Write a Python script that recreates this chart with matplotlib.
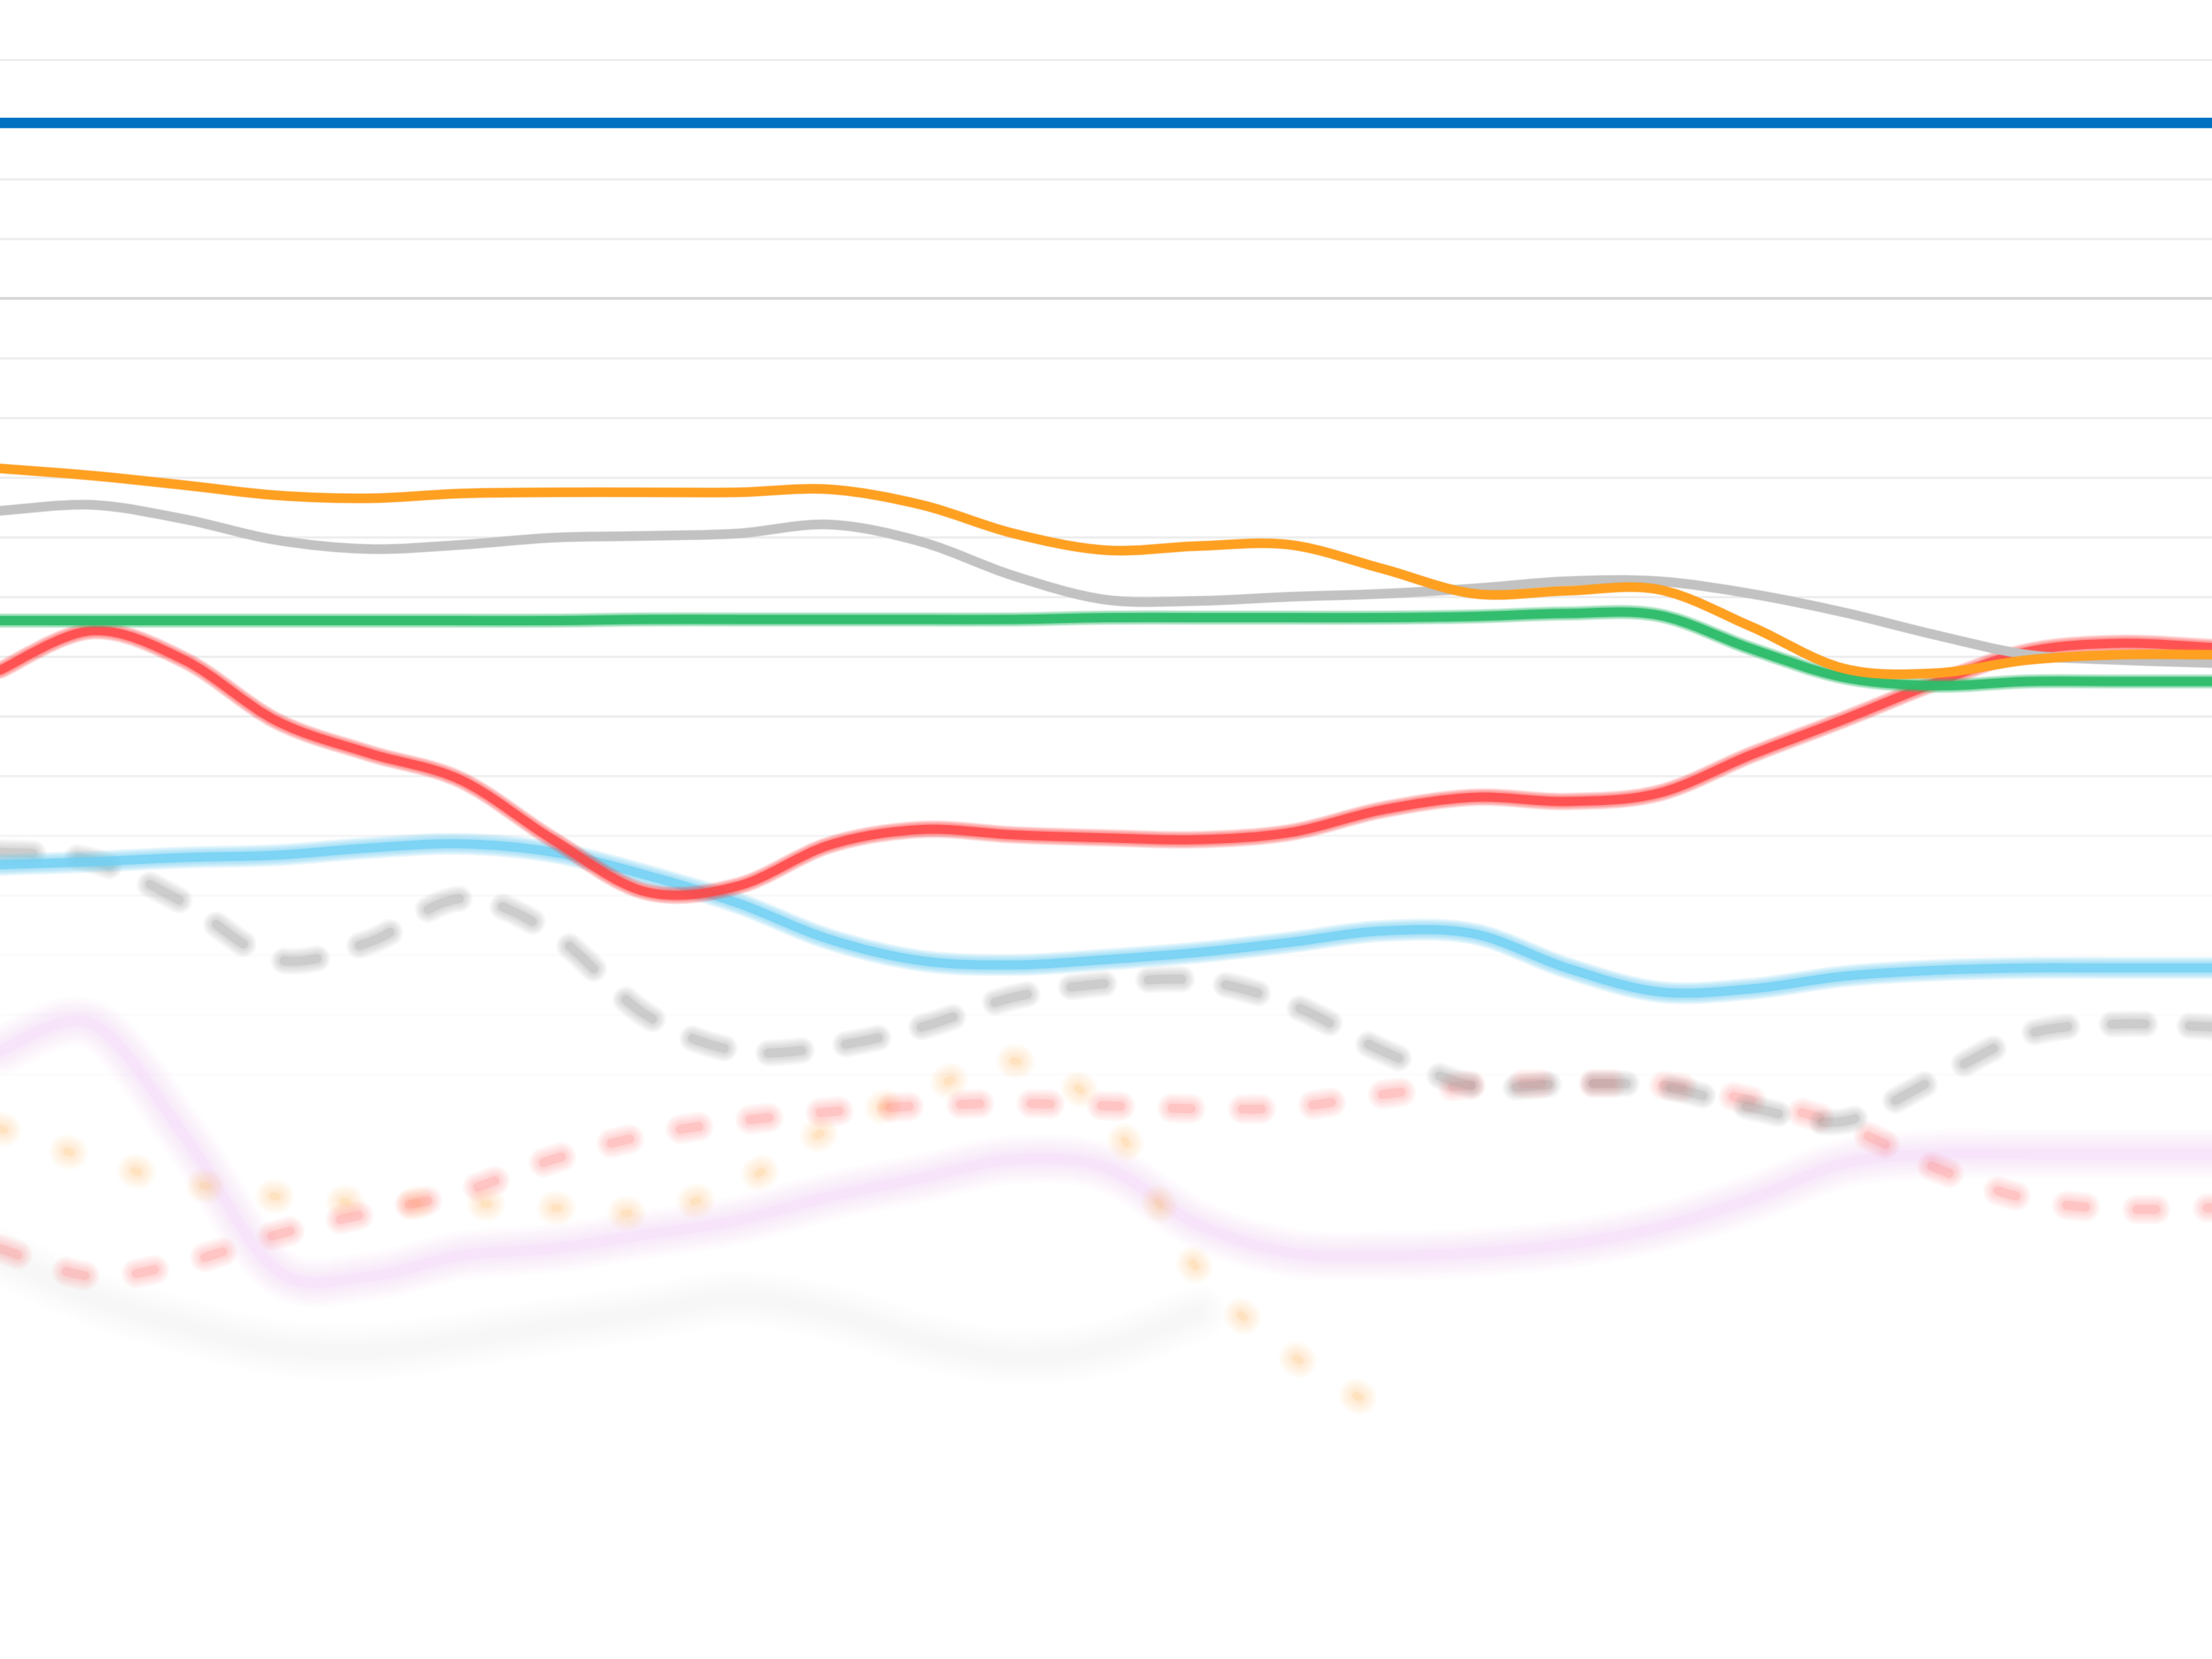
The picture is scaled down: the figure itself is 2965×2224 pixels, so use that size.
import numpy as np
import matplotlib
matplotlib.use('Agg')
import matplotlib.pyplot as plt
from matplotlib.path import Path
from matplotlib.patches import PathPatch

plt.rcParams['lines.scale_dashes'] = False

##############################
#            DATA            #
##############################

x = np.arange(25)

blue = [129.4] * 25
orange = [71.5, 70.3, 68.7, 67.0, 66.5, 67.3, 67.5, 67.5, 67.5, 68.0, 65.4, 60.6, 57.8,
          58.5, 58.7, 54.7, 50.5, 51.0, 51.2, 45.0, 38.0, 37.2, 39.4, 40.3, 40.3]
gray = [64.4, 65.4, 63.0, 59.5, 58.0, 58.7, 59.9, 60.2, 60.6, 62.1, 59.2, 53.5, 49.5,
        49.3, 50.0, 50.5, 51.4, 52.6, 52.6, 50.5, 47.4, 43.6, 40.3, 39.4, 38.9]
green = [46.0, 46.0, 46.0, 46.0, 46.0, 46.0, 46.0, 46.2, 46.2, 46.2, 46.2, 46.2, 46.5,
         46.5, 46.5, 46.5, 46.7, 47.2, 46.9, 41.3, 36.5, 35.1, 35.8, 35.8, 35.8]
red = [37.7, 44.3, 39.4, 29.2, 23.8, 19.3, 9.3, 0.6, 1.5, 8.4, 11.0, 10.1, 9.6,
       9.3, 10.5, 14.3, 16.4, 15.7, 17.1, 23.5, 29.4, 35.6, 40.8, 42.2, 41.5]
sky = [5.1, 5.6, 6.3, 6.7, 7.9, 8.6, 7.2, 3.4, -1.3, -7.4, -11.0, -11.7, -10.8,
       -9.6, -7.9, -6.0, -6.5, -12.2, -16.2, -15.7, -13.6, -12.6, -12.2, -12.2, -12.2]
gray_dash = [7.2, 5.8, -1.3, -10.8, -7.9, -0.6, -6.5, -20.0, -26.1, -25.4, -22.1, -17.1, -14.8,
             -14.3, -18.3, -26.1, -32.0, -31.6, -32.0, -35.6, -37.9, -30.8, -23.3, -21.6, -22.1]
red_dash = [-59.2, -63.9, -61.6, -56.9, -53.3, -49.8, -44.3, -40.3, -37.9, -36.3, -35.3, -34.9, -35.3,
            -35.8, -35.6, -33.4, -31.8, -31.6, -31.8, -34.4, -38.6, -45.7, -50.9, -52.6, -52.4]
orange_dot = [-39.1, -44.3, -48.1, -50.5, -51.6, -51.6, -52.4, -53.1, -48.6, -39.1, -33.2, -27.8, -36.8,
              -62.8, -76.9, -86.4] + [np.nan] * 9
pink = [-26.1, -21.6, -40.3, -62.8, -63.9, -60.4, -59.2, -56.9, -54.5, -50.5, -47.4, -44.3, -45.7,
        -55.2, -59.9, -60.4, -59.9, -58.5, -55.7, -50.9, -45.0, -43.4, -43.4, -43.4, -43.4]
faint = [-60.4, -67.5, -72.2, -75.8, -76.5, -74.6, -72.2, -69.9, -67.5, -69.9, -74.6, -77.4, -75.8,
         -69.9] + [np.nan] * 11

grid_levels = list(range(140, -40, -10))


##############################
#          HELPERS           #
##############################

def smooth_path(xs, ys):
    pts = np.column_stack([xs, ys])
    p = np.vstack([pts[0], pts, pts[-1]])
    verts = [pts[0]]
    codes = [Path.MOVETO]
    for i in range(1, len(p) - 2):
        c1 = p[i] + (p[i + 1] - p[i - 1]) / 6
        c2 = p[i + 1] - (p[i + 2] - p[i]) / 6
        verts += [c1, c2, p[i + 1]]
        codes += [Path.CURVE4] * 3
    return Path(verts, codes)


def soft_line(ax, ys, color, lw_px, blur_px=0, alpha=1.0, ls='-', z=2, core=1.0):
    # fake depth-of-field: stack of wider, faint copies under a weaker core
    ys = np.asarray(ys, float)
    ok = np.isfinite(ys)
    path = smooth_path(x[ok].astype(float), ys[ok])
    pt = 0.72
    steps = 7
    if blur_px > 0:
        for k in range(steps, 0, -1):
            w = (lw_px + 2 * blur_px * k / steps) * pt
            ax.add_patch(PathPatch(path, fill=False, edgecolor=color, lw=w, alpha=alpha * 0.13,
                                   linestyle=ls, capstyle='round', joinstyle='round', zorder=z))
    ax.add_patch(PathPatch(path, fill=False, edgecolor=color, lw=lw_px * pt, alpha=alpha * core,
                           linestyle=ls, capstyle='round', joinstyle='round', zorder=z))


##############################
#            PLOT            #
##############################

fig = plt.figure(figsize=(29.65, 22.24), dpi=100)
ax = fig.add_axes([0, 0, 1, 1])
ax.set_xlim(0, 24)
ax.set_ylim(-128, 150)
ax.axis('off')

for g in grid_levels:
    if g == 100:
        ax.axhline(g, color='#d6d6d6', lw=2.6, zorder=1)
    else:
        a = 1.0 if g > 30 else max(0.15, 1 - (30 - g) / 45)
        ax.axhline(g, color='#eeeeee', lw=2.2, alpha=a, zorder=1)

# far / blurred series first
soft_line(ax, faint, '#e6e6e6', 16, blur_px=30, alpha=0.03, z=2, core=0.2)
soft_line(ax, pink, '#f7a3fa', 14, blur_px=26, alpha=0.2, z=2, core=0.4)
soft_line(ax, orange_dot, '#ffb347', 10, blur_px=18, alpha=0.26, ls=(0, (4, 64)), z=3, core=0.5)
soft_line(ax, red_dash, '#ff6f6f', 12, blur_px=14, alpha=0.34, ls=(0, (18, 50)), z=3, core=0.5)
soft_line(ax, gray_dash, '#9c9c9c', 12, blur_px=12, alpha=0.45, ls=(0, (32, 43)), z=3, core=0.5)
soft_line(ax, sky, '#6ccff4', 12, blur_px=9, alpha=0.85, z=4, core=0.85)
soft_line(ax, red, '#ff4545', 12, blur_px=6, alpha=0.9, z=5, core=0.9)
soft_line(ax, green, '#2ebd6b', 12, blur_px=4, alpha=0.95, z=6)
soft_line(ax, gray, '#c2c2c2', 12, blur_px=1, alpha=1.0, z=6)
soft_line(ax, orange, '#ffa021', 12, blur_px=1, alpha=1.0, z=7)
soft_line(ax, blue, '#0070c0', 14, z=8)

fig.savefig('out.png', dpi=100, facecolor='white')
